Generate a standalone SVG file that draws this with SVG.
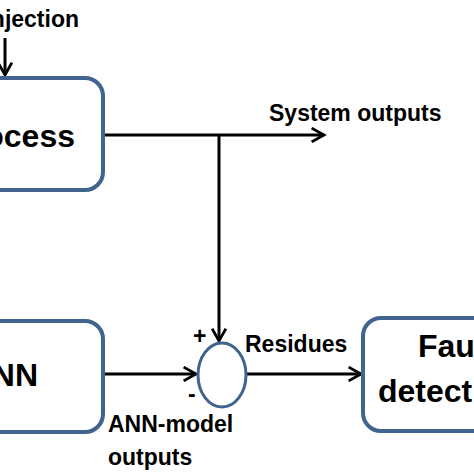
<svg xmlns="http://www.w3.org/2000/svg" width="474" height="474" viewBox="0 0 474 474">
<style>
.box{fill:#fff;stroke:#41648F;stroke-width:4}
.ln{fill:none;stroke:#000;stroke-width:3}
.big{font-family:"Liberation Sans",Arial,sans-serif;font-weight:bold;font-size:32px;fill:#000}
.lbl{font-family:"Liberation Sans",Arial,sans-serif;font-weight:bold;font-size:23px;fill:#000}
</style>
<defs>
<marker id="arr" viewBox="0 0 12 12" refX="10" refY="6" markerWidth="5.5" markerHeight="5.5" markerUnits="strokeWidth" orient="auto">
<path d="M1,1 L10,6 L1,11" fill="none" stroke="#000" stroke-width="2"/>
</marker>
</defs>
<rect width="474" height="474" fill="#fff"/>
<g id="connectors">
<line class="ln" x1="5" y1="38" x2="5" y2="75" marker-end="url(#arr)"/>
<line class="ln" x1="104" y1="135" x2="324" y2="135" marker-end="url(#arr)"/>
<line class="ln" x1="219" y1="135" x2="219" y2="341" marker-end="url(#arr)"/>
<line class="ln" x1="104" y1="374" x2="196" y2="374" marker-end="url(#arr)"/>
<line class="ln" x1="247" y1="374" x2="361" y2="374" marker-end="url(#arr)"/>
</g>
<g id="fault-injection">
<text class="lbl" x="79" y="27" text-anchor="end">Fault injection</text>
</g>
<g id="process">
<rect class="box" x="-100" y="78" width="203" height="112" rx="18"/>
<text class="big" x="75" y="147" text-anchor="end" font-size="35">Process</text>
</g>
<g id="system-outputs">
<text class="lbl" x="269" y="121">System outputs</text>
</g>
<g id="ann">
<rect class="box" x="-100" y="321" width="203" height="111" rx="18"/>
<text class="big" x="38" y="386" text-anchor="end">ANN</text>
</g>
<g id="sum">
<ellipse cx="222" cy="375" rx="24" ry="32" fill="#fff" stroke="#41648F" stroke-width="3"/>
<text class="lbl" x="193" y="344" font-size="21">+</text>
<text class="lbl" x="188" y="402" font-size="21">-</text>
</g>
<g id="residues">
<text class="lbl" x="245" y="352">Residues</text>
</g>
<g id="ann-model-outputs">
<text class="lbl" x="108" y="432">ANN-model</text>
<text class="lbl" x="108" y="465">outputs</text>
</g>
<g id="fault-detection">
<rect class="box" x="363" y="318" width="220" height="113" rx="18"/>
<text class="big" x="418" y="357">Fault</text>
<text class="big" x="378" y="402">detection</text>
</g>
</svg>
